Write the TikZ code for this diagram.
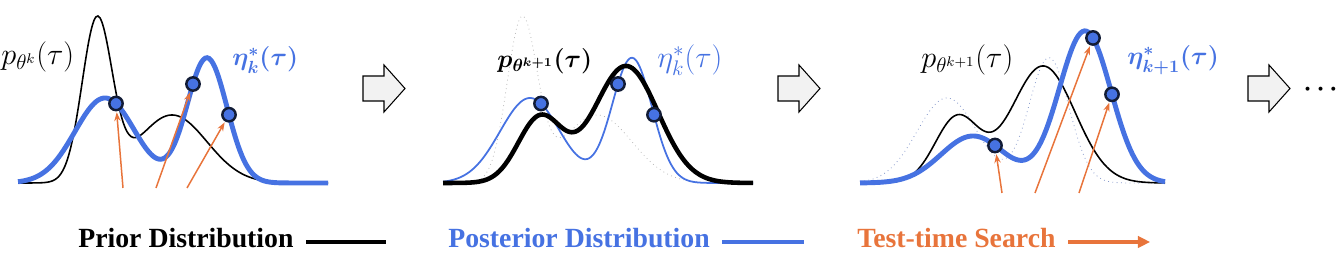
\documentclass[tikz,border=0pt]{standalone}
\usepackage{amsmath, amssymb}
\usepackage{fontspec}
\newfontfamily\legfont{Liberation Serif}
\usepackage{tikz}
\usetikzlibrary{arrows.meta, positioning}
\definecolor{PD_BLUE}{HTML}{4672E2}
\definecolor{PD_ORANGE}{HTML}{E8743B}
\definecolor{PD_NAVY}{HTML}{121C36}
\definecolor{PD_GREY}{HTML}{B8B8B8}
\definecolor{PD_FILL}{HTML}{F2F2F2}
\tikzset{
  priorthin/.style={black, line width=0.9pt},
  priorbold/.style={black, line width=2.6pt},
  postthin/.style={PD_BLUE, line width=1pt},
  postbold/.style={PD_BLUE, line width=2.8pt},
  ghost/.style={PD_GREY, dotted, line width=0.45pt},
  ghostblue/.style={PD_BLUE!45!PD_GREY, dotted, line width=0.45pt},
  search/.style={-{Stealth[length=5pt,width=3.6pt]}, PD_ORANGE, line width=0.85pt, shorten >=0.5pt},
  dot/.style={circle, draw=PD_NAVY, fill=PD_BLUE, line width=1.4pt,
    inner sep=0pt, minimum size=7.6pt},
  hollow/.style={draw=black, fill=PD_FILL, line width=0.6pt, line join=miter},
  mlabel/.style={inner sep=0pt, font=\fontsize{16.5}{19}\selectfont},
  mbold/.style={inner sep=0pt, font=\fontsize{14.5}{17}\selectfont},
  legtext/.style={inner sep=0pt, font=\legfont\bfseries\fontsize{15.8}{18}\selectfont},
  legline/.style={line width=2.4pt},
}

\begin{document}
\begin{tikzpicture}[x=0.02cm, y=0.02cm,
  declare function={
    g(\x,\m,\s)=exp(-0.5*((\x-\m)/\s)*((\x-\m)/\s));
    priorA(\x)=160*g(\x,97,15)+68*g(\x,172,35);
    postA(\x)=85*g(\x,105,30)+125*g(\x,207,20);
    priorB(\x)=65*g(\x,540,22)+117*g(\x,626,32);
    postC(\x)=47*g(\x,973,32)+152*g(\x,1085,26);
  }]
  \useasboundingbox (0,0) rectangle (1344,262);

  % panel 1: prior and posterior at step k
  \draw[priorthin] plot[domain=18:328, samples=160, smooth] (\x,{79+priorA(\x)});
  \draw[postbold] plot[domain=18:328, samples=160, smooth] (\x,{79+postA(\x)});
  \node[mlabel, anchor=west] (p1) at (1,205) {$p_{\theta^k}(\tau)$};
  \node[mbold, anchor=west, text=PD_BLUE] (e1) at (232,202) {$\boldsymbol{\eta_k^*(\tau)}$};

  \coordinate (s11) at (123,74);
  \coordinate (s12) at (156,74);
  \coordinate (s13) at (187,74);
  \node[dot] (d11) at (116,{79+postA(116)}) {};
  \node[dot] (d12) at (193,{79+postA(193)}) {};
  \node[dot] (d13) at (229,{79+postA(229)}) {};
  \draw[search] (s11) -- (d11);
  \draw[search] (s12) -- (d12);
  \draw[search] (s13) -- (d13);

  % panel 2: refit the prior
  \draw[ghost] plot[domain=443:753, samples=160, smooth] (\x,{79+priorA(\x-425)});
  \draw[postthin] plot[domain=443:753, samples=160, smooth] (\x,{79+postA(\x-425)});
  \draw[priorbold] plot[domain=443:753, samples=160, smooth] (\x,{79+priorB(\x)});
  \node[mbold, anchor=west] (p2) at (497,201) {$\boldsymbol{p_{\theta^{k+1}}(\tau)}$};
  \node[mlabel, anchor=west, text=PD_BLUE] (e2) at (657,202) {$\eta_k^*(\tau)$};
  \node[dot] (d21) at (541,{79+postA(116)}) {};
  \node[dot] (d22) at (618,{79+postA(193)}) {};
  \node[dot] (d23) at (654,{79+postA(229)}) {};

  % panel 3: step k+1
  \draw[ghostblue] plot[domain=860:1165, samples=160, smooth] (\x,{79+postA(\x-842)});
  \draw[priorthin] plot[domain=860:1165, samples=160, smooth] (\x,{79+priorB(\x-417)});
  \draw[postbold] plot[domain=860:1165, samples=160, smooth] (\x,{79+postC(\x)});
  \node[mlabel, anchor=west] (p3) at (921,202) {$p_{\theta^{k+1}}(\tau)$};
  \node[mbold, anchor=west, text=PD_BLUE] (e3) at (1127,202) {$\boldsymbol{\eta_{k+1}^*(\tau)}$};

  \coordinate (s31) at (1002,69);
  \coordinate (s32) at (1035,69);
  \coordinate (s33) at (1079,69);
  \node[dot] (d31) at (995,{79+postC(995)}) {};
  \node[dot] (d32) at (1093,{79+postC(1093)}) {};
  \node[dot] (d33) at (1112,{79+postC(1112)}) {};
  \draw[search] (s31) -- (d31);
  \draw[search] (s32) -- (d32);
  \draw[search] (s33) -- (d33);

  % block arrows between steps
  \foreach \ax in {363,778,1248}
    \draw[hollow] (\ax,161) -- ++(21,0) -- ++(0,-11) -- ++(21,23.5)
      -- ++(-21,23.5) -- ++(0,-11) -- ++(-21,0) -- cycle;
  \node[inner sep=0pt, font=\fontsize{15}{17}\selectfont] (more) at (1323,172) {$\boldsymbol{\cdots}$};

  % legend
  \node[legtext, anchor=base west] (lp) at (78,14) {Prior Distribution};
  \node[legtext, anchor=base west, text=PD_BLUE] (lq) at (448,14) {Posterior Distribution};
  \node[legtext, anchor=base west, text=PD_ORANGE] (ls) at (857,14) {Test-time Search};
  \draw[legline, black] ([xshift=7pt]lp.east |- 0,20) -- ++(80,0);
  \draw[legline, PD_BLUE] ([xshift=7pt]lq.east |- 0,20) -- ++(82,0);
  \draw[legline, PD_ORANGE, -{Triangle[length=7pt,width=6.5pt]}] ([xshift=7pt]ls.east |- 0,20) -- ++(82,0);
\end{tikzpicture}
\end{document}
